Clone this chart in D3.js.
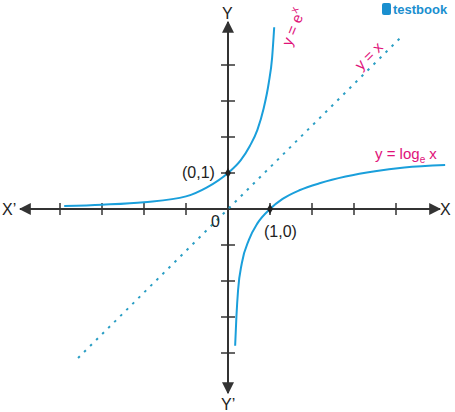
<!DOCTYPE html><html><head><meta charset="utf-8"><script src="https://cdn.jsdelivr.net/npm/d3@7"></script>
<style>body{margin:0;background:#fff}</style></head><body><svg id="c" width="455" height="412"></svg><script>
const xTicks=[-4,-3,-2,-1,1,2,3,4];
const yTicks=[-4,-3,-2,-1,1,2,3,4];
const expX=[-3.9,-3,-2,-1,-0.5,0,0.3,0.52,0.7,0.85,0.97,1.05,1.1];
const expY=[0.08,0.12,0.19,0.35,0.6,1,1.35,1.75,2.2,2.8,3.5,4.2,5.05];
const logX=[0.17,0.2,0.24,0.33,0.5,0.7,1,1.3,1.7,2.2,2.8,3.5,4.2,5.17];
const logY=[-3.8,-3,-2.25,-1.5,-0.85,-0.4,0,0.28,0.52,0.72,0.9,1.05,1.15,1.22];
const idX=[-3.57,4.17];
const idY=[-4.14,4.83];
const svg=d3.select("#c");
const x=d3.scaleLinear().domain([0,1]).range([228,270]);
const y=d3.scaleLinear().domain([0,1]).range([209,173]);
svg.append("defs").append("marker").attr("id","ar").attr("viewBox","0 0 10 10").attr("refX",9).attr("refY",5)
 .attr("markerWidth",6).attr("markerHeight",6).attr("orient","auto-start-reverse")
 .append("path").attr("d","M0,0L10,5L0,10z").attr("fill","#333");
const ax="#333";
svg.append("line").attr("x1",20).attr("x2",440).attr("y1",y(0)).attr("y2",y(0))
 .attr("stroke",ax).attr("stroke-width",2).attr("marker-start","url(#ar)").attr("marker-end","url(#ar)");
svg.append("line").attr("x1",x(0)).attr("x2",x(0)).attr("y1",22).attr("y2",393)
 .attr("stroke",ax).attr("stroke-width",2).attr("marker-start","url(#ar)").attr("marker-end","url(#ar)");
svg.selectAll(".xt").data(xTicks).join("line").attr("x1",d=>x(d)).attr("x2",d=>x(d)).attr("y1",y(0)-6).attr("y2",y(0)+6).attr("stroke",ax).attr("stroke-width",1.5);
svg.selectAll(".yt").data(yTicks).join("line").attr("y1",d=>y(d)).attr("y2",d=>y(d)).attr("x1",x(0)-7).attr("x2",x(0)+7).attr("stroke",ax).attr("stroke-width",1.5);
const line=d3.line().x(d=>x(d[0])).y(d=>y(d[1])).curve(d3.curveMonotoneX);
const blue="#1a9fdb";
svg.append("path").attr("d",line(d3.zip(idX,idY))).attr("stroke","#2a9ec4").attr("stroke-width",2).attr("stroke-dasharray","2.5,6").attr("fill","none");
svg.append("path").attr("d",line(d3.zip(expX,expY))).attr("stroke",blue).attr("stroke-width",2).attr("fill","none");
svg.append("path").attr("d",line(d3.zip(logX,logY))).attr("stroke",blue).attr("stroke-width",2).attr("fill","none");
[[0,1],[1,0]].forEach(p=>svg.append("path").attr("d",d3.symbol(d3.symbolDiamond,30)()).attr("transform",`translate(${x(p[0])},${y(p[1])})`).attr("fill","#222"));
const T=(t,xx,yy,o={})=>svg.append("text").attr("x",xx).attr("y",yy).text(t).attr("font-family","Liberation Sans, Arial").attr("font-size",o.s||16).attr("fill",o.c||"#222").attr("text-anchor",o.a||"start").attr("transform",o.r?`rotate(${o.r},${xx},${yy})`:null);
T("X’",2,215);T("X",440,215);T("Y",222,19);T("Y’",221,410);
T("(0,1)",182,178);T("(1,0)",264,237);T("0",211,227);
const pk="#e0137a";
const e=T("y = e",291,47,{c:pk,r:-68,s:15});e.append("tspan").text("x").attr("dy",-7).attr("font-size",11);
T("y = x",361,71,{c:pk,r:-45,s:15});
const l=T("y = log",375,159,{c:pk,s:15});l.append("tspan").text("e").attr("dy",4).attr("font-size",10);l.append("tspan").text(" x").attr("dy",-4);
svg.append("rect").attr("x",382).attr("y",3).attr("width",9).attr("height",12).attr("rx",2).attr("fill","#1a8fcf");
T("testbook",393,14,{c:"#1a8fcf",s:13}).attr("font-weight","bold");
</script></body></html>
